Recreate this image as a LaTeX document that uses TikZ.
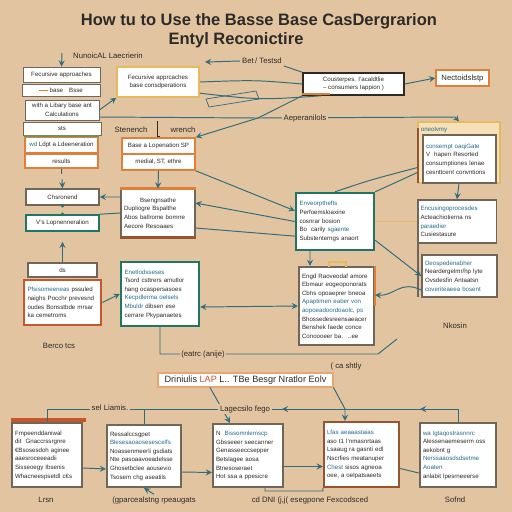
\documentclass[tikz,border=0pt]{standalone}
\usepackage{fontspec}
\setmainfont{Liberation Sans}
\definecolor{bgtan}{RGB}{226,196,160}
\definecolor{linkteal}{RGB}{48,108,124}
\definecolor{inkgray}{RGB}{45,42,40}
\definecolor{inkteal}{RGB}{38,108,140}
\definecolor{accorange}{RGB}{222,128,58}
\definecolor{accyellow}{RGB}{232,186,96}
\definecolor{accred}{RGB}{196,88,44}
\definecolor{accbrown}{RGB}{150,84,48}
\definecolor{accgreen}{RGB}{32,118,100}
\definecolor{cardgray}{RGB}{112,102,90}
\begin{document}
\begin{tikzpicture}[x=0.02cm,y=-0.02cm,>=stealth,
	link/.style={draw=linkteal,line width=0.55pt},
	card/.style={draw=#1,fill=white,line width=0.9pt,inner xsep=0.06cm,inner ysep=0.03cm,text=inkgray,font=\myfontbox},
	card/.default=cardgray,
	lbl/.style={text=inkgray,inner sep=1pt,font=\myfontlbl}]
	\newcommand{\myfontbox}{\fontsize{3.5}{4.9}\selectfont}
	\newcommand{\myfontlbl}{\fontsize{4.4}{5}\selectfont}
	\newcommand{\myfonttitle}{\fontsize{9.4}{11}\selectfont\bfseries}
	%Background
	\fill[bgtan] (0,0) rectangle (512,512);
	\useasboundingbox (0,0) rectangle (512,512);
	%Title
	\node [font=\myfonttitle,text=inkgray] (title1) at (259,21) {How tu to Use the Basse Base CasDergrarion};
	\node [font=\myfonttitle,text=inkgray] (title2) at (236,40) {Entyl Reconictire};
	%Left column, upper group
	\coordinate (cA) at (61.5,74.5);
	\coordinate (cB) at (61,90);
	\coordinate (cC) at (62,110);
	\coordinate (cD) at (62,128.5);
	\coordinate (cE1) at (61.5,145);
	\coordinate (cE2) at (61.5,161);
	\node [card, line width=0.5pt, minimum width=1.54cm, minimum height=0.30cm] (recA) at (cA) {Fecursive approaches};
	\node [card, line width=0.5pt, minimum width=1.56cm, minimum height=0.24cm] (recB) at (cB) {\textcolor{accorange}{\rule[0.6pt]{5pt}{0.6pt}} base\quad Bsse};
	\node [card, line width=0.5pt, minimum width=1.48cm, minimum height=0.40cm, align=center] (recC) at (cC) {with a Libary base ant\\Calculations};
	\node [card, line width=0.5pt, minimum width=1.56cm, minimum height=0.26cm] (recD) at (cD) {sts};
	\node [card=accorange, minimum width=1.46cm, minimum height=0.32cm] (recE1) at (cE1) {\textcolor{accgreen}{wd} Ldpt a Ldeeneration};
	\node [card=accorange, minimum width=1.46cm, minimum height=0.28cm] (recE2) at (cE2) {results};
	\draw [accgreen!60!accyellow, line width=1.2pt] (recE1.north west) -- (recE1.north east);
	%Middle column, upper group
	\coordinate (cG) at (158,82);
	\coordinate (cH1) at (158.5,146);
	\coordinate (cH2) at (158.5,162);
	\node [card=accyellow, minimum width=1.64cm, minimum height=0.60cm, align=center] (recG) at (cG) {Fecursive apprcaches\\base consdperations};
	\node [card=accorange, minimum width=1.46cm, minimum height=0.32cm] (recH1) at (cH1) {Base a Lopenation SP};
	\node [card=accorange, minimum width=1.46cm, minimum height=0.32cm] (recH2) at (cH2) {medial, ST, ethre};
	\node [lbl] (stenLbl) at (131,130) {Stenench};
	\node [lbl] (wrenLbl) at (183,130) {wrench};
	\draw [inkgray, line width=0.4pt] (157,121) -- (157,136) -- (160,136);
	%Top right group
	\coordinate (cI) at (353.5,84);
	\coordinate (cNeeds) at (462.5,78);
	\node [card=inkgray, minimum width=2.02cm, minimum height=0.44cm, align=center] (recI) at (cI) {Cousterpes. I'acaldtlie\\-- consumers Iappion )};
	\draw [accorange, line width=1.3pt] ([yshift=0.04cm]recI.south west) -- ++(28,0);
	\node [card=accorange, minimum width=1.06cm, minimum height=0.32cm, font=\myfontlbl] (needs) at (cNeeds) {Nectoidslstp};
	\node [lbl] (nurLbl) at (108,56) {NunoicAL Laecrierin};
	\node [lbl] (betLbl) at (262,61) {Bet\,/ Testsd};
	%Right column
	\node [draw=accyellow, fill=accyellow!45, line width=0.6pt, minimum width=1.64cm, minimum height=1.22cm] (recJtab) at (459,152.5) {};
	\draw [accbrown, line width=1.5pt] (418,128) -- (418,183);
	\node [lbl, font=\myfontbox, text=inkteal] (jHead) at (434,130) {oneolvmy};
	\node [card, minimum width=1.46cm, minimum height=0.96cm, text width=1.34cm, align=left] (recJ) at (459.5,159) {\textcolor{inkteal}{consempt oaqiGate}\\V\ \ hapen Resorted\\consumptiones lenae\\cesnttcent convntions};
	\node [card, minimum width=1.58cm, minimum height=0.86cm, text width=1.46cm, align=left] (recK) at (457,221.5) {\textcolor{inkteal}{Encusingoprocesdes}\\Acteachiotierna ns\\\textcolor{inkteal}{paraedier}\\Cusiestasure};
	\node [card, minimum width=1.50cm, minimum height=0.84cm, text width=1.38cm, align=left] (recL) at (459.5,276) {\textcolor{inkteal}{Deospedenabher}\\Neardergelmr/hp lyte\\Ovsdesfin Antaatsn\\\textcolor{inkteal}{coveriteaeea bosent}};
	\draw [cardgray, line width=1pt] (418,200) -- (418,297);
	\node [lbl] (nkoLbl) at (455,326) {Nkosin};
	%Centre column
	\node [card=accgreen, line width=1.4pt, minimum width=1.56cm, minimum height=1.14cm, text width=1.42cm, align=left] (recM) at (335,221.5) {\textcolor{inkteal}{Enveorpthefts}\\Perfoemsloaxine\\cosnrar bosion\\Bo\ \ carily \textcolor{inkteal}{sgaente}\\Substenterngs anaort};
	\node [card, line width=1.2pt, minimum width=1.50cm, minimum height=1.56cm, text width=1.38cm, align=left] (recN) at (336.5,306) {Engd Raoveodaf amore\\Ebmaur eogeoponorats\\Cbhs opoaeprer bneoa\\\textcolor{inkteal}{Apaptimen eaber von}\\\textcolor{inkteal}{aopoeadoordoaolc, ps}\\Bhossedesreensaeacer\\Benshek faede conce\\Conoooeer ba. \ ..ee};
	\draw [accorange, line width=1.2pt] (recN.north east) -- (recN.east);
	\draw [accyellow, line width=0.6pt] (329,267) -- (329,262) -- (346,262) -- (346,267);
	\node [card, line width=0.6pt, minimum width=1.48cm, minimum height=0.96cm, text width=1.36cm, align=left] (recO) at (158,213) {\hfil Bsengnsathe\hfil\\Dupliogre Bspalthe\\Abos ballrome bomrre\\Aecore Resoaaes};
	\draw [accorange, line width=2pt] (recO.north west) -- (recO.north east);
	\draw [accbrown, line width=1.5pt] (recO.south west) -- (recO.south east);
	\node [card=accgreen, line width=1.4pt, minimum width=1.56cm, minimum height=1.28cm, text width=1.42cm, align=left] (recP) at (160,294) {\textcolor{inkteal}{Enetlodsseses}\\Tsord csttrers amutlor\\hang ocaspersasoes\\\textcolor{inkteal}{Kecpdlerma oelsels}\\\textcolor{inkteal}{Mbuldr} dibsen ese\\cerrare Pkypanaetes};
	%Left column, lower group
	\node [card, minimum width=1.46cm, minimum height=0.32cm] (recQ) at (62.5,197) {Chsronend};
	\node [card=accgreen, minimum width=1.46cm, minimum height=0.32cm] (recR) at (62.5,223) {V's Lopnenneralion};
	\node [card, minimum width=1.38cm, minimum height=0.28cm] (recS) at (62.5,270) {ds};
	\node [card=accred, line width=1.5pt, minimum width=1.54cm, minimum height=0.90cm, text width=1.40cm, align=left] (recT) at (62.5,302.5) {\textcolor{inkteal}{Pfsisomeeneas} pssuled\\naighs Pocchr prevesnd\\oudes Bonsstbde mrsar\\ka cemetroms};
	\node [lbl] (bercoLbl) at (59,346) {Berco tcs};
	%Banner
	\node [card=accorange!70, line width=0.6pt, minimum width=3.50cm, minimum height=0.28cm, font=\fontsize{5.2}{6}\selectfont] (banner) at (245.5,380) {Driniulis \textcolor{accred}{LAP} L.. TBe Besgr Nratlor Eolv};
	\node [lbl] (caLbl) at (346,366) {( ca shtly};
	%Bottom row
	\node [card, line width=1.2pt, minimum width=1.40cm, minimum height=1.28cm, text width=1.28cm, align=left] (recU) at (47,455) {Fmpeenddaniwal\\dit\ \ Gnaccrssrgnre\\€Bsosesdoh aginee\\aaesroceeeadii\\Sisseoegy Ibsenis\\Whacneespsetdl c€s};
	\draw [accred, line width=2.4pt] ([yshift=0.04cm]recU.north west) -- ([yshift=0.04cm,xshift=0.06cm]recU.north east);
	\node [card, line width=1.2pt, minimum width=1.48cm, minimum height=1.24cm, text width=1.36cm, align=left] (recV) at (144,456) {Ressalccsgpet\\\textcolor{inkteal}{Blesesaoaosesescelfs}\\Noassenmeerli gsdiats\\Nte pasoaavoeadelsse\\Ghosetbclee aousevio\\Tsosem chg aseatils};
	\node [card, line width=1.2pt, minimum width=1.40cm, minimum height=1.26cm, text width=1.28cm, align=left] (recW) at (248,455.5) {N\ \ \textcolor{inkteal}{Bissomnlemscp}\\Gbsseeer seecanner\\Genasseeccsepper\\Betslagee aosa\\Btnesoseraet\\Hot ssa a ppesicre};
	\node [card=accbrown, line width=1.4pt, minimum width=1.50cm, minimum height=1.30cm, text width=1.38cm, align=left] (recX) at (361.5,454.5) {\textcolor{inkteal}{Lfas aeaaastaias}\\aso t1 l'nmasnrtaas\\Lsaaug ra gasnti edl\\Nscrfies meatanuper\\\textcolor{inkteal}{Chest} sisos agneoa\\oee, a oelpatsaeets};
	\node [card, line width=1.4pt, minimum width=1.52cm, minimum height=1.28cm, text width=1.40cm, align=left] (recY) at (458,455) {\textcolor{inkteal}{wa lgtaqostrasnnrc}\\Alessenaemeserm oss\\aekobnt g\\\textcolor{inkteal}{Nerssaaosdsdsetme}\\\textcolor{inkteal}{Aoaten}\\anlabit lpesrneeerse};
	\node [lbl] (lrsnLbl) at (46,500) {Lrsn};
	\node [lbl] (gparLbl) at (154,500) {(gparcealstng rpeaugats};
	\node [lbl] (cdLbl) at (310,500) {cd DNI (j,j( esegpone Fexcodsced};
	\node [lbl] (sofLbl) at (455,500) {Sofnd};
	%Connectors, top part
	\coordinate (nurTip) at (62,53);
	\draw [link,->] (nurTip) -- (recA.north);
	\coordinate (betTip) at (205,62);
	\draw [link,->] (betLbl.west) -- (betTip);
	\draw [link] (betLbl.south east) -- (recI.north west);
	\draw [link,->] (recC.east) -- (recG.south west);
	\coordinate (busA) at (258,118);
	\coordinate (busB) at (455,117);
	\draw [link] ([yshift=-0.14cm]recC.east) -- (busA) -- (recI.south west);
	\draw [link,->] (busA) -- (busB) -- (recJtab.north);
	\draw [link,->] (busA) -- (recH1.north east);
	\draw [link] (recG.east) .. controls (255,80) .. (recI.west);
	\draw [link] (recG.-15) .. controls (260,100) .. (recI.200);
	\draw [link, line width=0.4pt] (206,99) -- (256,91) -- (259,99) -- (209,107) -- cycle;
	\draw [link,->] (recI.east) -- (needs.west);
	\node [lbl, fill=bgtan] (aepLbl) at (305,118) {Aeperanilols};
	%Connectors, left and centre
	\draw [link,dashed,->] (recE2.south) -- (recQ.north);
	\draw [link,->] (recH2.south) -- (recO.north);
	\draw [link,->] ([yshift=0.32cm]recO.west) -- (recQ.east);
	\draw [link] (recR.north east) -- (recO.west);
	\fill [accgreen] (recQ.south) circle (1.8);
	\fill [accgreen] (recR.north) circle (1.8);
	\draw [link,->,shorten >=0.2cm] (recS.north) -- (recR.south);
	\draw [link,->] (recT.east) -- (recP.west);
	\draw [link,<->] ([yshift=-0.26cm]recP.east) -- (recN.west);
	\draw [link,->] (recH2.south east) -- (recM.165);
	\draw [link,->] (recM.west) -- ([yshift=0.2cm]recO.east);
	\draw [link] ([yshift=-0.3cm]recO.east) -- (recM.200);
	\draw [link,->] ([xshift=-0.5cm]recM.south) -- ([xshift=-0.53cm]recN.north);
	\draw [link] (recM.north) .. controls (370,180) .. ([yshift=-0.3cm]recJtab.west);
	\draw [link] (recM.north east) -- ([yshift=-0.4cm]recJtab.west);
	\draw [accyellow, line width=0.6pt] (recM.east) -- (recK.west);
	\draw [link,->] (recM.-25) -- (recL.west);
	\draw [link,->] (recL.200) .. controls (400,280) and (395,296) .. ([yshift=0.22cm]recN.east);
	\draw [link,->] (recJtab.south) -- (recK.north);
	\coordinate (pBend) at (378,354);
	\coordinate (pEnd) at (397,339);
	\draw [link] (recP.south) |- (pBend) -- (pEnd);
	\node [lbl, fill=bgtan] (eatLbl) at (203,354) {(eatrc (anije)};
	%Connectors, bottom part
	\coordinate (busL) at (47,409);
	\coordinate (busR) at (458,409);
	\coordinate (busMid) at (420,409);
	\coordinate (busArr) at (282,409);
	\draw [link] (recU.north) -- (busL) -- (busR) -- (recY.north);
	\draw [link,->] (busR) -- (busMid);
	\draw [link] (recV.north |- busL) -- (recV.north);
	\coordinate (wTop) at ([xshift=-0.36cm]recW.north);
	\draw [link,->] ([xshift=-0.71cm]banner.south) -- (wTop);
	\coordinate (xTop) at ([xshift=-0.33cm]recX.north);
	\draw [link,->] (banner.south east) -- (xTop |- busL) -- (xTop);
	\draw [link,->] (xTop |- busL) -- (busArr);
	\node [lbl, fill=bgtan] (selLbl) at (110,408) {sel Liamis.};
	\node [lbl, fill=bgtan] (lageLbl) at (245,409) {Lagecsilo fego};
	\draw [link,->] (gparLbl.north) -- (recV.south);
	\draw [link,->] ([yshift=-0.26cm]recU.east) -- ([yshift=-0.26cm]recV.west);
	\draw [link,->] ([yshift=-0.32cm]recV.east) -- ([yshift=-0.34cm]recW.west);
	\draw [link,->] ([yshift=-0.22cm]recW.east) -- ([yshift=-0.24cm]recX.west);
	\coordinate (wxBend) at (323,491);
	\draw [link] ([xshift=0.34cm]recW.south) |- (wxBend) -- (recX.south west);
	\draw [link] ([yshift=-0.28cm]recX.east) -- ([yshift=-0.36cm]recY.west);
\end{tikzpicture}
\end{document}
